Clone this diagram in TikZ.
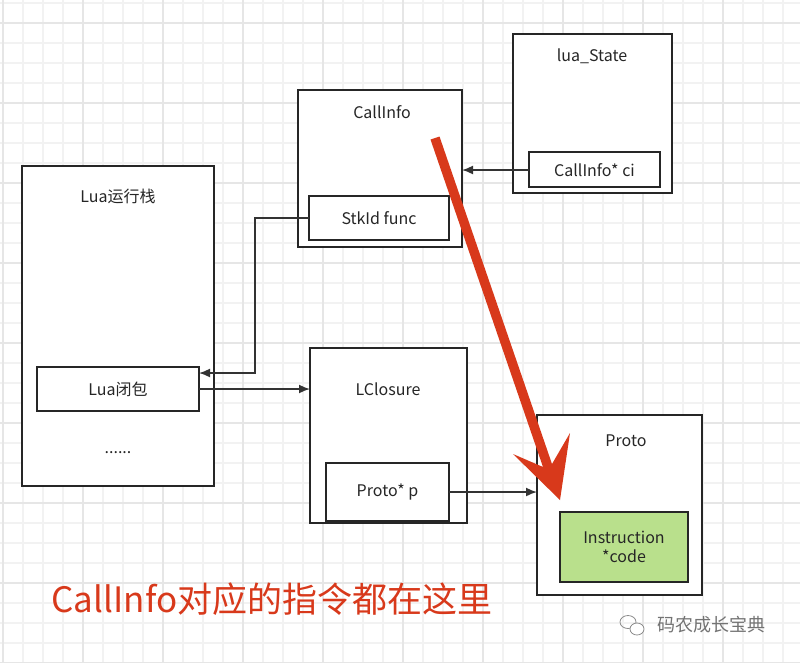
\documentclass[tikz,border=0pt]{standalone}
\usepackage{fontspec}
\setmainfont{Noto Sans CJK SC}
\usetikzlibrary{arrows.meta}
\definecolor{gridmin}{HTML}{F2F2F2}
\definecolor{gridmaj}{HTML}{E6E6E6}
\definecolor{redc}{HTML}{D8391B}
\definecolor{greenc}{HTML}{B9E08C}
\begin{document}
\begin{tikzpicture}[x=1pt,y=-1pt,
  box/.style={draw=black!85,line width=1.6pt,fill=white},
  lbl/.style={font=\fontsize{16}{19}\selectfont,text=black!85},
  conn/.style={line width=1.6pt,draw=black!80,-{Latex[length=11pt,width=9pt]}}]
\useasboundingbox (0,0) rectangle (800,662);
\fill[white] (0,0) rectangle (800,662);
\foreach \i in {0,...,40} {
  \draw[gridmin,line width=1.4pt] ({3+20*\i},0) -- ({3+20*\i},662);
  \draw[gridmin,line width=1.4pt] (0,{3+20*\i}) -- (800,{3+20*\i});
}
\foreach \i in {0,...,10} {
  \draw[gridmaj,line width=1.4pt] ({3+80*\i},0) -- ({3+80*\i},662);
  \draw[gridmaj,line width=1.4pt] (0,{23+80*\i}) -- (800,{23+80*\i});
}
% boxes
\draw[box] (513,34) rectangle (672,193);
\node[lbl] (ls) at (592,56) {lua\_State};
\draw[box] (529,152) rectangle (660,187);
\node[lbl] (ci) at (594.5,170) {CallInfo* ci};
\coordinate (ciL) at (529,170);

\draw[box] (298,90) rectangle (462,247);
\node[lbl] (cit) at (382,112) {CallInfo};
\coordinate (cibR) at (462,170);
\draw[box] (309,196) rectangle (449,240);
\node[lbl] (fn) at (379,218) {StkId func};
\coordinate (fnL) at (309,218);

\draw[box] (22,166) rectangle (214,486);
\node[lbl] (st) at (118,196) {Lua运行栈};
\draw[box] (37,367) rectangle (199,411);
\node[lbl] (cl) at (118,389) {Lua闭包};
\coordinate (clR) at (199,389);
\coordinate (clRu) at (199,373);
\node[lbl] (dots) at (118,453) {......};

\draw[box] (310,348) rectangle (467,523);
\node[lbl] (lct) at (388,389) {LClosure};
\coordinate (lcL) at (310,389);
\draw[box] (326,463) rectangle (449,521);
\node[lbl] (pp) at (387.5,492) {Proto* p};
\coordinate (ppR) at (449,492);

\draw[box] (537,415) rectangle (702,595);
\node[lbl] (prt) at (626,441) {Proto};
\coordinate (prL) at (537,492);
\draw[box,fill=greenc] (560,512) rectangle (688,582);
\node[lbl,align=center] (ins) at (624,547) {Instruction\\*code};

% connectors
\draw[conn] (ciL) -- (cibR);
\draw[conn] (fnL) -- (255,218) -- (255,373) -- (clRu);
\draw[conn] (clR) -- (lcL);
\draw[conn] (ppR) -- (prL);

% red arrow
\fill[redc] (430.5,139.5) -- (439.5,136.5) -- (552,464) -- (570,433) -- (560,500) -- (513,454) -- (543,467) -- cycle;

\node[text=redc,font=\fontsize{35}{40}\selectfont,anchor=west] (cap) at (48,599) {CallInfo对应的指令都在这里};
\node[text=black!55,font=\fontsize{18}{21}\selectfont] (wm) at (711,625) {码农成长宝典};
\draw[black!45,line width=0.8pt] (628,622) ellipse (8 and 6.5);
\draw[black!45,line width=0.8pt,fill=white] (637,629) ellipse (7 and 6);
\end{tikzpicture}
\end{document}
